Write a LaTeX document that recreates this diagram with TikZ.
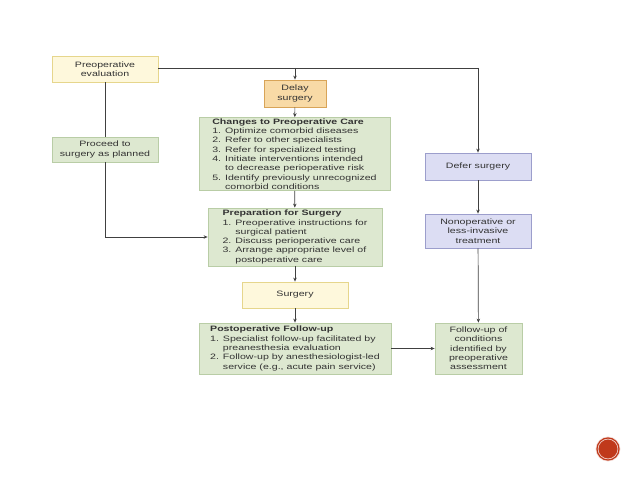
\documentclass[tikz,border=0pt]{standalone}
\usepackage{fontspec}
\setmainfont{Liberation Sans}[FakeStretch=1.36]
\usetikzlibrary{arrows.meta}
\definecolor{yfill}{HTML}{FEF8DC}\definecolor{ydraw}{HTML}{E6D68C}
\definecolor{ofill}{HTML}{F8DAA6}\definecolor{odraw}{HTML}{D8A458}
\definecolor{gfill}{HTML}{DDE8D0}\definecolor{gdraw}{HTML}{B9CDA6}
\definecolor{bfill}{HTML}{DCDDF3}\definecolor{bdraw}{HTML}{9C9ECC}
\definecolor{linec}{HTML}{404040}
\definecolor{redc}{HTML}{C0391B}
\tikzset{
 bx/.style={draw, line width=0.8pt, inner sep=1pt, font=\fontsize{7.8}{9.3}\selectfont, text=black!80},
 ybox/.style={bx, fill=yfill, draw=ydraw, align=center},
 obox/.style={bx, fill=ofill, draw=odraw, align=center},
 gbox/.style={bx, fill=gfill, draw=gdraw},
 bbox/.style={bx, fill=bfill, draw=bdraw, align=center},
 ln/.style={draw=linec, line width=0.7pt},
 ar/.style={ln, -{Stealth[length=4pt,width=3.5pt]}}
}
\begin{document}
\begin{tikzpicture}[x=1pt,y=-1pt]
\useasboundingbox (0,0) rectangle (638,478);
\node[ybox, minimum width=106, minimum height=26] (pe) at (105,69) {Preoperative\\evaluation};
\node[obox, minimum width=62, minimum height=27] (ds) at (295,93.5) {Delay\\surgery};
\node[gbox, minimum width=191, minimum height=72, align=left] (cp) at (294.5,154) {\textbf{Changes to Preoperative Care}\\
1. Optimize comorbid diseases\\
2. Refer to other specialists\\
3. Refer for specialized testing\\
4. Initiate interventions intended\\\hphantom{4. }to decrease perioperative risk\\
5. Identify previously unrecognized\\\hphantom{5. }comorbid conditions};
\node[gbox, minimum width=106, minimum height=25, align=center] (pr) at (105,149.5) {Proceed to\\surgery as planned};
\node[bbox, minimum width=106, minimum height=27] (df) at (478,166.5) {Defer surgery};
\node[gbox, minimum width=174, minimum height=58, align=left] (ps) at (295,237) {\textbf{Preparation for Surgery}\\
1. Preoperative instructions for\\\hphantom{1. }surgical patient\\
2. Discuss perioperative care\\
3. Arrange appropriate level of\\\hphantom{3. }postoperative care};
\node[bbox, minimum width=106, minimum height=34] (no) at (478,231) {Nonoperative or\\less-invasive\\treatment};
\node[ybox, minimum width=106, minimum height=26] (su) at (295,295) {Surgery};
\node[gbox, minimum width=192, minimum height=51, align=left] (po) at (295,348.5) {\textbf{Postoperative Follow-up}\\
1. Specialist follow-up facilitated by\\\hphantom{1. }preanesthesia evaluation\\
2. Follow-up by anesthesiologist-led\\\hphantom{2. }service (e.g., acute pain service)};
\node[gbox, minimum width=87, minimum height=51, align=center] (fu) at (478.5,348.5) {Follow-up of\\conditions\\identified by\\preoperative\\assessment};
\coordinate (c1) at (295,68);
\coordinate (c2) at (478,68);
\coordinate (c3) at (105,237);
\draw[ln] (pe.east |- 0,68) -- (c2);
\draw[ar] (c2) -- (df.north);
\draw[ar] (c1) -- (ds.north);
\draw[ar] (ds) -- (cp);
\draw[ar] (cp) -- (ps);
\draw[ar] (ps) -- (su);
\draw[ar] (su) -- (po);
\draw[ln] (pe) -- (pr);
\draw[ar] (pr) -- (c3) -- (ps.west);
\draw[ar] (df) -- (no);
\draw[ar] (no) -- (fu);
\draw[ar] (po) -- (fu);
\node[circle, fill=redc, draw=white!80!redc, line width=0.8pt, minimum size=22, inner sep=0pt, double=redc, double distance=1.2pt] (rc) at (608,449) {};
\end{tikzpicture}
\end{document}
